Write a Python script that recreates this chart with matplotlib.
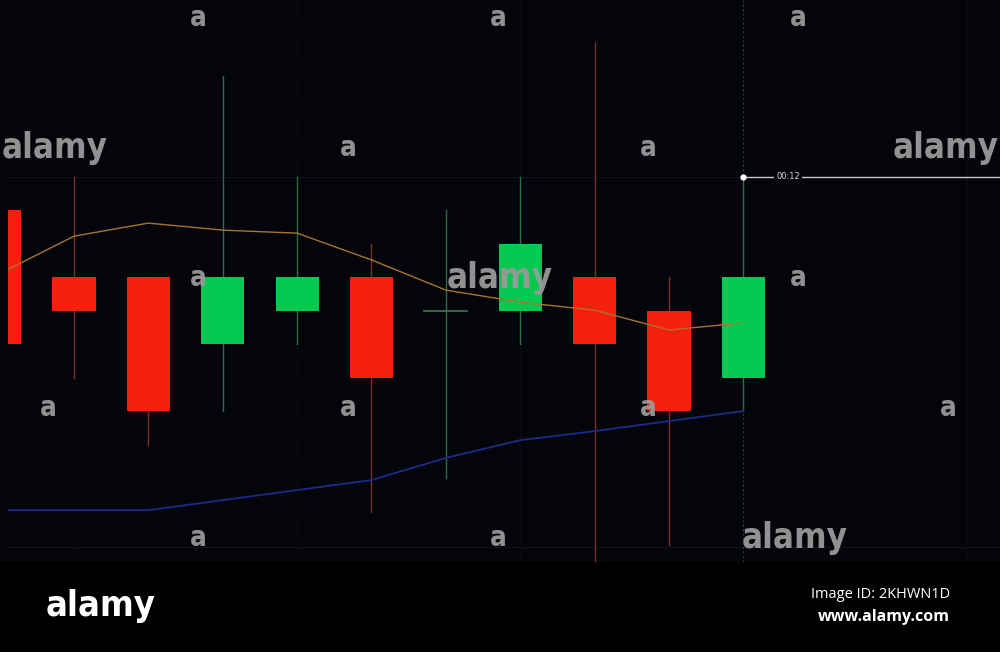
import matplotlib
matplotlib.use("Agg")
import matplotlib.pyplot as plt
from matplotlib.patches import Rectangle

# ---- data ----
idx = [0, 1, 2, 3, 4, 5, 6, 7, 8, 9, 10]
opens = [6, 4, 4, 2, 3, 4, 3, 3, 4, 3, 1]
closes = [2, 3, 0, 4, 4, 1, 3, 5, 2, 0, 4]
highs = [6, 7, 4, 10, 7, 5, 6, 7, 11, 4, 7]
lows = [2, 1, -1, 0, 2, -3, -2, 2, -5, -4, 0]
ma_fast = [4.1, 5.22, 5.61, 5.40, 5.31, 4.51, 3.61, 3.25, 3.01, 2.42, 2.63]
ma_slow = [-2.96, -2.96, -2.96, -2.66, -2.36, -2.06, -1.40, -0.87, -0.60, -0.30, 0.0]
cursor_label = "00:12"
cursor_idx = 10
cursor_price = 7

BG = "#04050b"
RED = "#f5200d"
GREEN = "#05c853"
RED_WICK = "#7a3328"
GREEN_WICK = "#2a6e48"

fig = plt.figure(figsize=(10, 6.52), dpi=100)
fig.patch.set_facecolor(BG)
fig.add_artist(Rectangle((0, 0), 1, 90 / 652, transform=fig.transFigure,
                         facecolor="black", edgecolor="none", zorder=0))
ax = fig.add_axes([0.008, 90 / 652, 0.992, 562 / 652])
ax.set_facecolor(BG)
ax.set_xlim(0.113, 13.45)
ax.set_ylim(-4.507, 12.27)
for s in ax.spines.values():
    s.set_visible(False)
ax.set_xticks([])
ax.set_yticks([])

# faint grid
for gx in [1, 4, 7, 10, 13]:
    ax.axvline(gx, color="#0f1118", lw=0.8, ls=(0, (2, 2)), zorder=0)
for gy in [7, -4.06]:
    ax.axhline(gy, color="#10121a", lw=0.8, zorder=0)

w = 0.58
for i, o, c, h, l in zip(idx, opens, closes, highs, lows):
    up = c >= o
    col = GREEN if up else RED
    wcol = GREEN_WICK if up else RED_WICK
    ax.plot([i, i], [l, h], color=wcol, lw=1.0, zorder=2)
    if o == c:
        ax.plot([i - w / 2, i + w / 2], [o, o], color="#3a7a58", lw=1.2, zorder=3)
    else:
        ax.add_patch(Rectangle((i - w / 2, min(o, c)), w, abs(c - o),
                               facecolor=col, edgecolor="none", zorder=3))

ax.plot(idx, ma_fast, color="#a8742e", lw=1.0, zorder=4)
ax.plot(idx, ma_slow, color="#1c2a8c", lw=1.3, zorder=4)

# crosshair
ax.axvline(cursor_idx, color="#2a3a40", lw=0.8, ls=(0, (2, 2)), zorder=1)
ax.plot([cursor_idx, 13.45], [cursor_price, cursor_price], color="#c8c8c8", lw=1.0, zorder=5)
ax.text(cursor_idx + 0.6, cursor_price, cursor_label, color="#d8d8d8", fontsize=6,
        ha="center", va="center", zorder=6,
        bbox=dict(facecolor=BG, edgecolor="none", pad=1.5))
ax.plot([cursor_idx], [cursor_price], marker="o", ms=3.5, color="white", zorder=7)

# watermarks
wm = dict(color="#9a9a9a", fontweight="bold", family="DejaVu Sans",
          fontstretch="condensed", alpha=0.95, zorder=10)
big = [(55, 148), (946, 148), (500, 278), (795, 538)]
for x, y in big:
    fig.text(x / 1000, 1 - y / 652, "alamy", fontsize=25, ha="center", va="center", **wm)
small = [(198, 18), (498, 18), (798, 18), (348, 148), (648, 148), (198, 278),
         (798, 278), (48, 408), (348, 408), (648, 408), (948, 408), (198, 538), (498, 538)]
for x, y in small:
    fig.text(x / 1000, 1 - y / 652, "a", fontsize=20, ha="center", va="center", **wm)

fig.text(101 / 1000, 1 - 606 / 652, "alamy", fontsize=26, color="white",
         fontweight="bold", family="DejaVu Sans", fontstretch="condensed",
         ha="center", va="center")
fig.text(950 / 1000, 1 - 594 / 652, "Image ID: 2KHWN1D", fontsize=10.5, color="white",
         ha="right", va="center", family="Open Sans")
fig.text(950 / 1000, 1 - 617 / 652, "www.alamy.com", fontsize=11.5, color="white",
         fontweight="bold", ha="right", va="center", family="Open Sans")

fig.savefig("out.png", dpi=100, facecolor=fig.get_facecolor())
